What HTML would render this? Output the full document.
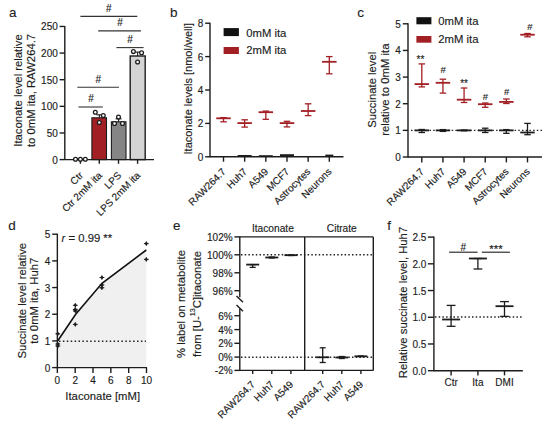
<!DOCTYPE html>
<html><head><meta charset="utf-8"><style>
html,body{margin:0;padding:0;background:#fff;}
svg{display:block;}
text{font-family:"Liberation Sans", sans-serif;stroke:#1c1c1c;stroke-width:0.15px;}
</style></head><body>
<svg width="550" height="427" viewBox="0 0 550 427">
<rect width="550" height="427" fill="#fff"/>
<text x="9.00" y="16.90" font-size="13.5" text-anchor="start" fill="#1c1c1c" style="stroke-width:0.1px">a</text>
<line x1="64.80" y1="25.95" x2="64.80" y2="160.10" stroke="#1c1c1c" stroke-width="1.4" />
<line x1="64.80" y1="159.60" x2="154.00" y2="159.60" stroke="#1c1c1c" stroke-width="1.4" />
<line x1="59.60" y1="159.60" x2="64.80" y2="159.60" stroke="#1c1c1c" stroke-width="1.4" />
<text x="57.80" y="163.60" font-size="10" text-anchor="end" fill="#1c1c1c" >0</text>
<line x1="59.60" y1="132.97" x2="64.80" y2="132.97" stroke="#1c1c1c" stroke-width="1.4" />
<text x="57.80" y="136.97" font-size="10" text-anchor="end" fill="#1c1c1c" >50</text>
<line x1="59.60" y1="106.34" x2="64.80" y2="106.34" stroke="#1c1c1c" stroke-width="1.4" />
<text x="57.80" y="110.34" font-size="10" text-anchor="end" fill="#1c1c1c" >100</text>
<line x1="59.60" y1="79.71" x2="64.80" y2="79.71" stroke="#1c1c1c" stroke-width="1.4" />
<text x="57.80" y="83.71" font-size="10" text-anchor="end" fill="#1c1c1c" >150</text>
<line x1="59.60" y1="53.08" x2="64.80" y2="53.08" stroke="#1c1c1c" stroke-width="1.4" />
<text x="57.80" y="57.08" font-size="10" text-anchor="end" fill="#1c1c1c" >200</text>
<line x1="59.60" y1="26.45" x2="64.80" y2="26.45" stroke="#1c1c1c" stroke-width="1.4" />
<text x="57.80" y="30.45" font-size="10" text-anchor="end" fill="#1c1c1c" >250</text>
<rect x="91.90" y="117.80" width="14.60" height="41.80" fill="#a21f24" stroke="#1c1c1c" stroke-width="1.1"/>
<rect x="111.40" y="121.80" width="14.60" height="37.80" fill="#858585" stroke="#1c1c1c" stroke-width="1.1"/>
<rect x="130.20" y="56.00" width="15.00" height="103.60" fill="#d4d4d4" stroke="#1c1c1c" stroke-width="1.4"/>
<line x1="80.40" y1="159.60" x2="80.40" y2="163.80" stroke="#1c1c1c" stroke-width="1.4" />
<line x1="99.30" y1="159.60" x2="99.30" y2="163.80" stroke="#1c1c1c" stroke-width="1.4" />
<line x1="118.50" y1="159.60" x2="118.50" y2="163.80" stroke="#1c1c1c" stroke-width="1.4" />
<line x1="137.60" y1="159.60" x2="137.60" y2="163.80" stroke="#1c1c1c" stroke-width="1.4" />
<line x1="99.40" y1="114.80" x2="99.40" y2="117.80" stroke="#1c1c1c" stroke-width="1.1" />
<line x1="96.40" y1="114.80" x2="102.40" y2="114.80" stroke="#1c1c1c" stroke-width="1.1" />
<line x1="118.60" y1="118.80" x2="118.60" y2="121.80" stroke="#1c1c1c" stroke-width="1.1" />
<line x1="115.60" y1="118.80" x2="121.60" y2="118.80" stroke="#1c1c1c" stroke-width="1.1" />
<line x1="137.60" y1="52.10" x2="137.60" y2="56.00" stroke="#1c1c1c" stroke-width="1.1" />
<line x1="134.60" y1="52.10" x2="140.60" y2="52.10" stroke="#1c1c1c" stroke-width="1.1" />
<circle cx="75.50" cy="159.20" r="1.9" fill="#fff" stroke="#1c1c1c" stroke-width="1.3"/>
<circle cx="80.40" cy="159.20" r="1.9" fill="#fff" stroke="#1c1c1c" stroke-width="1.3"/>
<circle cx="85.30" cy="159.20" r="1.9" fill="#fff" stroke="#1c1c1c" stroke-width="1.3"/>
<circle cx="95.30" cy="112.30" r="1.9" fill="#fff" stroke="#1c1c1c" stroke-width="1.3"/>
<circle cx="103.30" cy="115.50" r="1.9" fill="#fff" stroke="#1c1c1c" stroke-width="1.3"/>
<circle cx="99.30" cy="122.50" r="1.9" fill="#fff" stroke="#1c1c1c" stroke-width="1.3"/>
<circle cx="118.50" cy="117.00" r="1.9" fill="#fff" stroke="#1c1c1c" stroke-width="1.3"/>
<circle cx="114.50" cy="123.50" r="1.9" fill="#fff" stroke="#1c1c1c" stroke-width="1.3"/>
<circle cx="122.50" cy="123.50" r="1.9" fill="#fff" stroke="#1c1c1c" stroke-width="1.3"/>
<circle cx="133.40" cy="51.60" r="1.9" fill="#fff" stroke="#1c1c1c" stroke-width="1.3"/>
<circle cx="141.60" cy="52.70" r="1.9" fill="#fff" stroke="#1c1c1c" stroke-width="1.3"/>
<circle cx="137.60" cy="62.00" r="1.9" fill="#fff" stroke="#1c1c1c" stroke-width="1.3"/>
<line x1="80.40" y1="16.40" x2="137.30" y2="16.40" stroke="#333" stroke-width="1.1" />
<text x="108.70" y="11.80" font-size="10" text-anchor="middle" fill="#1c1c1c" >#</text>
<line x1="98.20" y1="30.90" x2="140.90" y2="30.90" stroke="#333" stroke-width="1.1" />
<text x="120.00" y="26.30" font-size="10" text-anchor="middle" fill="#1c1c1c" >#</text>
<line x1="116.40" y1="47.60" x2="143.60" y2="47.60" stroke="#333" stroke-width="1.1" />
<text x="130.00" y="43.00" font-size="10" text-anchor="middle" fill="#1c1c1c" >#</text>
<line x1="77.30" y1="87.30" x2="119.00" y2="87.30" stroke="#333" stroke-width="1.1" />
<text x="98.20" y="82.70" font-size="10" text-anchor="middle" fill="#1c1c1c" >#</text>
<line x1="78.50" y1="107.00" x2="102.70" y2="107.00" stroke="#333" stroke-width="1.1" />
<text x="91.00" y="102.40" font-size="10" text-anchor="middle" fill="#1c1c1c" >#</text>
<text x="21.80" y="90.50" font-size="11.3" text-anchor="middle" fill="#1c1c1c" transform="rotate(-90 21.80 90.50)" >Itaconate level relative</text>
<text x="35.30" y="90.50" font-size="11.3" text-anchor="middle" fill="#1c1c1c" transform="rotate(-90 35.30 90.50)" >to 0mM ita, RAW264.7</text>
<text x="83.80" y="176.00" font-size="10" text-anchor="end" fill="#1c1c1c" transform="rotate(-45 83.80 176.00)" >Ctr</text>
<text x="102.70" y="176.00" font-size="10" text-anchor="end" fill="#1c1c1c" transform="rotate(-45 102.70 176.00)" >Ctr 2mM ita</text>
<text x="121.90" y="176.00" font-size="10" text-anchor="end" fill="#1c1c1c" transform="rotate(-45 121.90 176.00)" >LPS</text>
<text x="141.00" y="176.00" font-size="10" text-anchor="end" fill="#1c1c1c" transform="rotate(-45 141.00 176.00)" >LPS 2mM ita</text>
<text x="170.00" y="16.90" font-size="13.5" text-anchor="start" fill="#1c1c1c" style="stroke-width:0.1px">b</text>
<line x1="210.00" y1="22.70" x2="210.00" y2="157.30" stroke="#1c1c1c" stroke-width="1.4" />
<line x1="210.00" y1="156.80" x2="343.50" y2="156.80" stroke="#1c1c1c" stroke-width="1.4" />
<line x1="205.20" y1="156.80" x2="210.00" y2="156.80" stroke="#1c1c1c" stroke-width="1.4" />
<text x="203.30" y="160.80" font-size="10" text-anchor="end" fill="#1c1c1c" >0</text>
<line x1="205.20" y1="123.40" x2="210.00" y2="123.40" stroke="#1c1c1c" stroke-width="1.4" />
<text x="203.30" y="127.40" font-size="10" text-anchor="end" fill="#1c1c1c" >2</text>
<line x1="205.20" y1="90.00" x2="210.00" y2="90.00" stroke="#1c1c1c" stroke-width="1.4" />
<text x="203.30" y="94.00" font-size="10" text-anchor="end" fill="#1c1c1c" >4</text>
<line x1="205.20" y1="56.60" x2="210.00" y2="56.60" stroke="#1c1c1c" stroke-width="1.4" />
<text x="203.30" y="60.60" font-size="10" text-anchor="end" fill="#1c1c1c" >6</text>
<line x1="205.20" y1="23.20" x2="210.00" y2="23.20" stroke="#1c1c1c" stroke-width="1.4" />
<text x="203.30" y="27.20" font-size="10" text-anchor="end" fill="#1c1c1c" >8</text>
<line x1="223.50" y1="156.80" x2="223.50" y2="161.70" stroke="#1c1c1c" stroke-width="1.4" />
<line x1="244.66" y1="156.80" x2="244.66" y2="161.70" stroke="#1c1c1c" stroke-width="1.4" />
<line x1="265.82" y1="156.80" x2="265.82" y2="161.70" stroke="#1c1c1c" stroke-width="1.4" />
<line x1="286.98" y1="156.80" x2="286.98" y2="161.70" stroke="#1c1c1c" stroke-width="1.4" />
<line x1="308.14" y1="156.80" x2="308.14" y2="161.70" stroke="#1c1c1c" stroke-width="1.4" />
<line x1="329.30" y1="156.80" x2="329.30" y2="161.70" stroke="#1c1c1c" stroke-width="1.4" />
<line x1="223.50" y1="117.60" x2="223.50" y2="121.80" stroke="#a21f24" stroke-width="1.3" />
<line x1="220.25" y1="117.60" x2="226.75" y2="117.60" stroke="#a21f24" stroke-width="1.3" />
<line x1="220.25" y1="121.80" x2="226.75" y2="121.80" stroke="#a21f24" stroke-width="1.3" />
<line x1="216.25" y1="118.30" x2="230.75" y2="118.30" stroke="#a21f24" stroke-width="1.8" />
<line x1="244.66" y1="119.80" x2="244.66" y2="127.10" stroke="#a21f24" stroke-width="1.3" />
<line x1="241.41" y1="119.80" x2="247.91" y2="119.80" stroke="#a21f24" stroke-width="1.3" />
<line x1="241.41" y1="127.10" x2="247.91" y2="127.10" stroke="#a21f24" stroke-width="1.3" />
<line x1="237.41" y1="123.10" x2="251.91" y2="123.10" stroke="#a21f24" stroke-width="1.8" />
<line x1="265.82" y1="111.10" x2="265.82" y2="119.30" stroke="#a21f24" stroke-width="1.3" />
<line x1="262.57" y1="111.10" x2="269.07" y2="111.10" stroke="#a21f24" stroke-width="1.3" />
<line x1="262.57" y1="119.30" x2="269.07" y2="119.30" stroke="#a21f24" stroke-width="1.3" />
<line x1="258.57" y1="112.20" x2="273.07" y2="112.20" stroke="#a21f24" stroke-width="1.8" />
<line x1="286.98" y1="121.30" x2="286.98" y2="126.90" stroke="#a21f24" stroke-width="1.3" />
<line x1="283.73" y1="121.30" x2="290.23" y2="121.30" stroke="#a21f24" stroke-width="1.3" />
<line x1="283.73" y1="126.90" x2="290.23" y2="126.90" stroke="#a21f24" stroke-width="1.3" />
<line x1="279.73" y1="123.10" x2="294.23" y2="123.10" stroke="#a21f24" stroke-width="1.8" />
<line x1="308.14" y1="103.80" x2="308.14" y2="115.60" stroke="#a21f24" stroke-width="1.3" />
<line x1="304.89" y1="103.80" x2="311.39" y2="103.80" stroke="#a21f24" stroke-width="1.3" />
<line x1="304.89" y1="115.60" x2="311.39" y2="115.60" stroke="#a21f24" stroke-width="1.3" />
<line x1="300.89" y1="111.00" x2="315.39" y2="111.00" stroke="#a21f24" stroke-width="1.8" />
<line x1="329.30" y1="56.60" x2="329.30" y2="73.80" stroke="#a21f24" stroke-width="1.3" />
<line x1="326.05" y1="56.60" x2="332.55" y2="56.60" stroke="#a21f24" stroke-width="1.3" />
<line x1="326.05" y1="73.80" x2="332.55" y2="73.80" stroke="#a21f24" stroke-width="1.3" />
<line x1="322.05" y1="61.80" x2="336.55" y2="61.80" stroke="#a21f24" stroke-width="1.8" />
<rect x="217.50" y="156.00" width="12.00" height="1.00" fill="#1c1c1c"/>
<rect x="237.66" y="155.00" width="14.00" height="2.00" fill="#1c1c1c"/>
<rect x="258.82" y="155.20" width="14.00" height="1.80" fill="#1c1c1c"/>
<rect x="279.98" y="154.20" width="14.00" height="2.80" fill="#1c1c1c"/>
<rect x="302.14" y="156.00" width="12.00" height="1.00" fill="#1c1c1c"/>
<rect x="325.30" y="154.60" width="8.00" height="2.40" fill="#1c1c1c"/>
<rect x="223.60" y="28.10" width="15.30" height="8.00" fill="#111"/>
<rect x="223.60" y="47.00" width="15.30" height="7.00" fill="#a21f24"/>
<text x="246.20" y="36.80" font-size="11.3" text-anchor="start" fill="#1c1c1c" >0mM ita</text>
<text x="246.20" y="54.30" font-size="11.3" text-anchor="start" fill="#1c1c1c" >2mM ita</text>
<text x="191.50" y="88.75" font-size="11.0" text-anchor="middle" fill="#1c1c1c" transform="rotate(-90 191.50 88.75)" >Itaconate levels [nmol/well]</text>
<text x="226.50" y="172.30" font-size="10" text-anchor="end" fill="#1c1c1c" transform="rotate(-45 226.50 172.30)" >RAW264.7</text>
<text x="247.66" y="172.30" font-size="10" text-anchor="end" fill="#1c1c1c" transform="rotate(-45 247.66 172.30)" >Huh7</text>
<text x="268.82" y="172.30" font-size="10" text-anchor="end" fill="#1c1c1c" transform="rotate(-45 268.82 172.30)" >A549</text>
<text x="289.98" y="172.30" font-size="10" text-anchor="end" fill="#1c1c1c" transform="rotate(-45 289.98 172.30)" >MCF7</text>
<text x="311.14" y="172.30" font-size="10" text-anchor="end" fill="#1c1c1c" transform="rotate(-45 311.14 172.30)" >Astrocytes</text>
<text x="332.30" y="172.30" font-size="10" text-anchor="end" fill="#1c1c1c" transform="rotate(-45 332.30 172.30)" >Neurons</text>
<text x="357.30" y="16.90" font-size="13.5" text-anchor="start" fill="#1c1c1c" style="stroke-width:0.1px">c</text>
<line x1="408.00" y1="23.30" x2="408.00" y2="157.50" stroke="#1c1c1c" stroke-width="1.4" />
<line x1="408.00" y1="157.00" x2="542.00" y2="157.00" stroke="#1c1c1c" stroke-width="1.4" />
<line x1="402.80" y1="157.00" x2="408.00" y2="157.00" stroke="#1c1c1c" stroke-width="1.4" />
<text x="400.80" y="161.00" font-size="10" text-anchor="end" fill="#1c1c1c" >0</text>
<line x1="402.80" y1="130.36" x2="408.00" y2="130.36" stroke="#1c1c1c" stroke-width="1.4" />
<text x="400.80" y="134.36" font-size="10" text-anchor="end" fill="#1c1c1c" >1</text>
<line x1="402.80" y1="103.72" x2="408.00" y2="103.72" stroke="#1c1c1c" stroke-width="1.4" />
<text x="400.80" y="107.72" font-size="10" text-anchor="end" fill="#1c1c1c" >2</text>
<line x1="402.80" y1="77.08" x2="408.00" y2="77.08" stroke="#1c1c1c" stroke-width="1.4" />
<text x="400.80" y="81.08" font-size="10" text-anchor="end" fill="#1c1c1c" >3</text>
<line x1="402.80" y1="50.44" x2="408.00" y2="50.44" stroke="#1c1c1c" stroke-width="1.4" />
<text x="400.80" y="54.44" font-size="10" text-anchor="end" fill="#1c1c1c" >4</text>
<line x1="402.80" y1="23.80" x2="408.00" y2="23.80" stroke="#1c1c1c" stroke-width="1.4" />
<text x="400.80" y="27.80" font-size="10" text-anchor="end" fill="#1c1c1c" >5</text>
<line x1="421.80" y1="157.00" x2="421.80" y2="162.40" stroke="#1c1c1c" stroke-width="1.4" />
<line x1="442.94" y1="157.00" x2="442.94" y2="162.40" stroke="#1c1c1c" stroke-width="1.4" />
<line x1="464.08" y1="157.00" x2="464.08" y2="162.40" stroke="#1c1c1c" stroke-width="1.4" />
<line x1="485.22" y1="157.00" x2="485.22" y2="162.40" stroke="#1c1c1c" stroke-width="1.4" />
<line x1="506.36" y1="157.00" x2="506.36" y2="162.40" stroke="#1c1c1c" stroke-width="1.4" />
<line x1="527.50" y1="157.00" x2="527.50" y2="162.40" stroke="#1c1c1c" stroke-width="1.4" />
<line x1="411.00" y1="130.40" x2="542.00" y2="130.40" stroke="#222" stroke-width="1.4" stroke-dasharray="1.5 2.2"/>
<line x1="421.80" y1="63.90" x2="421.80" y2="86.90" stroke="#a21f24" stroke-width="1.3" />
<line x1="418.55" y1="63.90" x2="425.05" y2="63.90" stroke="#a21f24" stroke-width="1.3" />
<line x1="418.55" y1="86.90" x2="425.05" y2="86.90" stroke="#a21f24" stroke-width="1.3" />
<line x1="414.55" y1="84.10" x2="429.05" y2="84.10" stroke="#a21f24" stroke-width="1.8" />
<line x1="442.94" y1="79.20" x2="442.94" y2="93.10" stroke="#a21f24" stroke-width="1.3" />
<line x1="439.69" y1="79.20" x2="446.19" y2="79.20" stroke="#a21f24" stroke-width="1.3" />
<line x1="439.69" y1="93.10" x2="446.19" y2="93.10" stroke="#a21f24" stroke-width="1.3" />
<line x1="435.69" y1="82.80" x2="450.19" y2="82.80" stroke="#a21f24" stroke-width="1.8" />
<line x1="464.08" y1="88.00" x2="464.08" y2="102.50" stroke="#a21f24" stroke-width="1.3" />
<line x1="460.83" y1="88.00" x2="467.33" y2="88.00" stroke="#a21f24" stroke-width="1.3" />
<line x1="460.83" y1="102.50" x2="467.33" y2="102.50" stroke="#a21f24" stroke-width="1.3" />
<line x1="456.83" y1="99.70" x2="471.33" y2="99.70" stroke="#a21f24" stroke-width="1.8" />
<line x1="485.22" y1="103.00" x2="485.22" y2="107.30" stroke="#a21f24" stroke-width="1.3" />
<line x1="481.97" y1="103.00" x2="488.47" y2="103.00" stroke="#a21f24" stroke-width="1.3" />
<line x1="481.97" y1="107.30" x2="488.47" y2="107.30" stroke="#a21f24" stroke-width="1.3" />
<line x1="477.97" y1="104.20" x2="492.47" y2="104.20" stroke="#a21f24" stroke-width="1.8" />
<line x1="506.36" y1="99.00" x2="506.36" y2="103.50" stroke="#a21f24" stroke-width="1.3" />
<line x1="503.11" y1="99.00" x2="509.61" y2="99.00" stroke="#a21f24" stroke-width="1.3" />
<line x1="503.11" y1="103.50" x2="509.61" y2="103.50" stroke="#a21f24" stroke-width="1.3" />
<line x1="499.11" y1="101.90" x2="513.61" y2="101.90" stroke="#a21f24" stroke-width="1.8" />
<line x1="527.50" y1="33.50" x2="527.50" y2="36.80" stroke="#a21f24" stroke-width="1.3" />
<line x1="524.25" y1="33.50" x2="530.75" y2="33.50" stroke="#a21f24" stroke-width="1.3" />
<line x1="524.25" y1="36.80" x2="530.75" y2="36.80" stroke="#a21f24" stroke-width="1.3" />
<line x1="520.25" y1="34.70" x2="534.75" y2="34.70" stroke="#a21f24" stroke-width="1.8" />
<line x1="421.80" y1="129.50" x2="421.80" y2="132.50" stroke="#1c1c1c" stroke-width="1.3" />
<line x1="418.55" y1="129.50" x2="425.05" y2="129.50" stroke="#1c1c1c" stroke-width="1.3" />
<line x1="418.55" y1="132.50" x2="425.05" y2="132.50" stroke="#1c1c1c" stroke-width="1.3" />
<line x1="414.55" y1="130.40" x2="429.05" y2="130.40" stroke="#1c1c1c" stroke-width="1.8" />
<line x1="442.94" y1="129.60" x2="442.94" y2="131.40" stroke="#1c1c1c" stroke-width="1.3" />
<line x1="439.69" y1="129.60" x2="446.19" y2="129.60" stroke="#1c1c1c" stroke-width="1.3" />
<line x1="439.69" y1="131.40" x2="446.19" y2="131.40" stroke="#1c1c1c" stroke-width="1.3" />
<line x1="435.69" y1="130.40" x2="450.19" y2="130.40" stroke="#1c1c1c" stroke-width="1.8" />
<line x1="464.08" y1="130.00" x2="464.08" y2="130.80" stroke="#1c1c1c" stroke-width="1.3" />
<line x1="460.83" y1="130.00" x2="467.33" y2="130.00" stroke="#1c1c1c" stroke-width="1.3" />
<line x1="460.83" y1="130.80" x2="467.33" y2="130.80" stroke="#1c1c1c" stroke-width="1.3" />
<line x1="456.83" y1="130.40" x2="471.33" y2="130.40" stroke="#1c1c1c" stroke-width="1.8" />
<line x1="485.22" y1="128.20" x2="485.22" y2="132.50" stroke="#1c1c1c" stroke-width="1.3" />
<line x1="481.97" y1="128.20" x2="488.47" y2="128.20" stroke="#1c1c1c" stroke-width="1.3" />
<line x1="481.97" y1="132.50" x2="488.47" y2="132.50" stroke="#1c1c1c" stroke-width="1.3" />
<line x1="477.97" y1="130.40" x2="492.47" y2="130.40" stroke="#1c1c1c" stroke-width="1.8" />
<line x1="506.36" y1="129.60" x2="506.36" y2="133.30" stroke="#1c1c1c" stroke-width="1.3" />
<line x1="503.11" y1="129.60" x2="509.61" y2="129.60" stroke="#1c1c1c" stroke-width="1.3" />
<line x1="503.11" y1="133.30" x2="509.61" y2="133.30" stroke="#1c1c1c" stroke-width="1.3" />
<line x1="499.11" y1="130.40" x2="513.61" y2="130.40" stroke="#1c1c1c" stroke-width="1.8" />
<line x1="527.50" y1="123.40" x2="527.50" y2="134.70" stroke="#1c1c1c" stroke-width="1.3" />
<line x1="524.25" y1="123.40" x2="530.75" y2="123.40" stroke="#1c1c1c" stroke-width="1.3" />
<line x1="524.25" y1="134.70" x2="530.75" y2="134.70" stroke="#1c1c1c" stroke-width="1.3" />
<line x1="520.25" y1="132.50" x2="534.75" y2="132.50" stroke="#1c1c1c" stroke-width="1.8" />
<text x="420.50" y="63.00" font-size="10" text-anchor="middle" fill="#1c1c1c" >**</text>
<text x="443.24" y="73.00" font-size="9.5" text-anchor="middle" fill="#1c1c1c" >#</text>
<text x="464.08" y="86.80" font-size="10" text-anchor="middle" fill="#1c1c1c" >**</text>
<text x="485.52" y="99.50" font-size="9.5" text-anchor="middle" fill="#1c1c1c" >#</text>
<text x="506.76" y="94.90" font-size="9.5" text-anchor="middle" fill="#1c1c1c" >#</text>
<text x="529.90" y="29.80" font-size="9.5" text-anchor="middle" fill="#1c1c1c" >#</text>
<rect x="416.40" y="17.20" width="15.00" height="7.10" fill="#111"/>
<rect x="416.40" y="36.00" width="15.00" height="6.70" fill="#a21f24"/>
<text x="438.30" y="25.00" font-size="11.3" text-anchor="start" fill="#1c1c1c" >0mM ita</text>
<text x="438.30" y="43.00" font-size="11.3" text-anchor="start" fill="#1c1c1c" >2mM ita</text>
<text x="376.00" y="89.70" font-size="11.3" text-anchor="middle" fill="#1c1c1c" transform="rotate(-90 376.00 89.70)" >Succinate level</text>
<text x="389.00" y="89.70" font-size="11.3" text-anchor="middle" fill="#1c1c1c" transform="rotate(-90 389.00 89.70)" >relative to 0mM ita</text>
<text x="424.80" y="172.30" font-size="10" text-anchor="end" fill="#1c1c1c" transform="rotate(-45 424.80 172.30)" >RAW264.7</text>
<text x="445.94" y="172.30" font-size="10" text-anchor="end" fill="#1c1c1c" transform="rotate(-45 445.94 172.30)" >Huh7</text>
<text x="467.08" y="172.30" font-size="10" text-anchor="end" fill="#1c1c1c" transform="rotate(-45 467.08 172.30)" >A549</text>
<text x="488.22" y="172.30" font-size="10" text-anchor="end" fill="#1c1c1c" transform="rotate(-45 488.22 172.30)" >MCF7</text>
<text x="509.36" y="172.30" font-size="10" text-anchor="end" fill="#1c1c1c" transform="rotate(-45 509.36 172.30)" >Astrocytes</text>
<text x="530.50" y="172.30" font-size="10" text-anchor="end" fill="#1c1c1c" transform="rotate(-45 530.50 172.30)" >Neurons</text>
<text x="8.30" y="230.00" font-size="13.5" text-anchor="start" fill="#1c1c1c" style="stroke-width:0.1px">d</text>
<polygon points="57.8,340.8 75.5,314.5 102,283.3 146.3,250 146.3,250 146.3,367.6 57.8,367.6" fill="#f0f0f0"/>
<line x1="57.35" y1="233.70" x2="57.35" y2="368.10" stroke="#1c1c1c" stroke-width="1.4" />
<line x1="57.35" y1="367.60" x2="147.00" y2="367.60" stroke="#1c1c1c" stroke-width="1.4" />
<line x1="52.20" y1="367.60" x2="57.35" y2="367.60" stroke="#1c1c1c" stroke-width="1.4" />
<text x="50.20" y="371.60" font-size="10" text-anchor="end" fill="#1c1c1c" >0</text>
<line x1="52.20" y1="340.92" x2="57.35" y2="340.92" stroke="#1c1c1c" stroke-width="1.4" />
<text x="50.20" y="344.92" font-size="10" text-anchor="end" fill="#1c1c1c" >1</text>
<line x1="52.20" y1="314.24" x2="57.35" y2="314.24" stroke="#1c1c1c" stroke-width="1.4" />
<text x="50.20" y="318.24" font-size="10" text-anchor="end" fill="#1c1c1c" >2</text>
<line x1="52.20" y1="287.56" x2="57.35" y2="287.56" stroke="#1c1c1c" stroke-width="1.4" />
<text x="50.20" y="291.56" font-size="10" text-anchor="end" fill="#1c1c1c" >3</text>
<line x1="52.20" y1="260.88" x2="57.35" y2="260.88" stroke="#1c1c1c" stroke-width="1.4" />
<text x="50.20" y="264.88" font-size="10" text-anchor="end" fill="#1c1c1c" >4</text>
<line x1="52.20" y1="234.20" x2="57.35" y2="234.20" stroke="#1c1c1c" stroke-width="1.4" />
<text x="50.20" y="238.20" font-size="10" text-anchor="end" fill="#1c1c1c" >5</text>
<line x1="57.35" y1="367.60" x2="57.35" y2="373.00" stroke="#1c1c1c" stroke-width="1.4" />
<text x="57.35" y="384.10" font-size="10" text-anchor="middle" fill="#1c1c1c" >0</text>
<line x1="75.18" y1="367.60" x2="75.18" y2="373.00" stroke="#1c1c1c" stroke-width="1.4" />
<text x="75.18" y="384.10" font-size="10" text-anchor="middle" fill="#1c1c1c" >2</text>
<line x1="93.01" y1="367.60" x2="93.01" y2="373.00" stroke="#1c1c1c" stroke-width="1.4" />
<text x="93.01" y="384.10" font-size="10" text-anchor="middle" fill="#1c1c1c" >4</text>
<line x1="110.84" y1="367.60" x2="110.84" y2="373.00" stroke="#1c1c1c" stroke-width="1.4" />
<text x="110.84" y="384.10" font-size="10" text-anchor="middle" fill="#1c1c1c" >6</text>
<line x1="128.67" y1="367.60" x2="128.67" y2="373.00" stroke="#1c1c1c" stroke-width="1.4" />
<text x="128.67" y="384.10" font-size="10" text-anchor="middle" fill="#1c1c1c" >8</text>
<line x1="146.50" y1="367.60" x2="146.50" y2="373.00" stroke="#1c1c1c" stroke-width="1.4" />
<text x="146.50" y="384.10" font-size="10" text-anchor="middle" fill="#1c1c1c" >10</text>
<line x1="59.00" y1="341.20" x2="146.00" y2="341.20" stroke="#222" stroke-width="1.4" stroke-dasharray="1.5 2.4"/>
<polyline points="57.8,340.8 75.5,314.5 102,283.3 146.3,250" fill="none" stroke="#111" stroke-width="1.6"/>
<line x1="55.40" y1="333.80" x2="60.20" y2="333.80" stroke="#1c1c1c" stroke-width="1.0" />
<line x1="57.80" y1="331.60" x2="57.80" y2="336.00" stroke="#1c1c1c" stroke-width="1.0" />
<polygon points="55.90,333.80 57.80,332.00 59.70,333.80 57.80,335.60" fill="#1c1c1c"/>
<line x1="55.40" y1="344.00" x2="60.20" y2="344.00" stroke="#1c1c1c" stroke-width="1.0" />
<line x1="57.80" y1="341.80" x2="57.80" y2="346.20" stroke="#1c1c1c" stroke-width="1.0" />
<polygon points="55.90,344.00 57.80,342.20 59.70,344.00 57.80,345.80" fill="#1c1c1c"/>
<line x1="55.40" y1="346.00" x2="60.20" y2="346.00" stroke="#1c1c1c" stroke-width="1.0" />
<line x1="57.80" y1="343.80" x2="57.80" y2="348.20" stroke="#1c1c1c" stroke-width="1.0" />
<polygon points="55.90,346.00 57.80,344.20 59.70,346.00 57.80,347.80" fill="#1c1c1c"/>
<line x1="72.90" y1="305.30" x2="77.70" y2="305.30" stroke="#1c1c1c" stroke-width="1.0" />
<line x1="75.30" y1="303.10" x2="75.30" y2="307.50" stroke="#1c1c1c" stroke-width="1.0" />
<polygon points="73.40,305.30 75.30,303.50 77.20,305.30 75.30,307.10" fill="#1c1c1c"/>
<line x1="72.90" y1="309.40" x2="77.70" y2="309.40" stroke="#1c1c1c" stroke-width="1.0" />
<line x1="75.30" y1="307.20" x2="75.30" y2="311.60" stroke="#1c1c1c" stroke-width="1.0" />
<polygon points="73.40,309.40 75.30,307.60 77.20,309.40 75.30,311.20" fill="#1c1c1c"/>
<line x1="72.90" y1="310.90" x2="77.70" y2="310.90" stroke="#1c1c1c" stroke-width="1.0" />
<line x1="75.30" y1="308.70" x2="75.30" y2="313.10" stroke="#1c1c1c" stroke-width="1.0" />
<polygon points="73.40,310.90 75.30,309.10 77.20,310.90 75.30,312.70" fill="#1c1c1c"/>
<line x1="72.90" y1="324.40" x2="77.70" y2="324.40" stroke="#1c1c1c" stroke-width="1.0" />
<line x1="75.30" y1="322.20" x2="75.30" y2="326.60" stroke="#1c1c1c" stroke-width="1.0" />
<polygon points="73.40,324.40 75.30,322.60 77.20,324.40 75.30,326.20" fill="#1c1c1c"/>
<line x1="99.50" y1="277.50" x2="104.30" y2="277.50" stroke="#1c1c1c" stroke-width="1.0" />
<line x1="101.90" y1="275.30" x2="101.90" y2="279.70" stroke="#1c1c1c" stroke-width="1.0" />
<polygon points="100.00,277.50 101.90,275.70 103.80,277.50 101.90,279.30" fill="#1c1c1c"/>
<line x1="99.50" y1="285.00" x2="104.30" y2="285.00" stroke="#1c1c1c" stroke-width="1.0" />
<line x1="101.90" y1="282.80" x2="101.90" y2="287.20" stroke="#1c1c1c" stroke-width="1.0" />
<polygon points="100.00,285.00 101.90,283.20 103.80,285.00 101.90,286.80" fill="#1c1c1c"/>
<line x1="99.50" y1="287.80" x2="104.30" y2="287.80" stroke="#1c1c1c" stroke-width="1.0" />
<line x1="101.90" y1="285.60" x2="101.90" y2="290.00" stroke="#1c1c1c" stroke-width="1.0" />
<polygon points="100.00,287.80 101.90,286.00 103.80,287.80 101.90,289.60" fill="#1c1c1c"/>
<line x1="143.90" y1="243.60" x2="148.70" y2="243.60" stroke="#1c1c1c" stroke-width="1.0" />
<line x1="146.30" y1="241.40" x2="146.30" y2="245.80" stroke="#1c1c1c" stroke-width="1.0" />
<polygon points="144.40,243.60 146.30,241.80 148.20,243.60 146.30,245.40" fill="#1c1c1c"/>
<line x1="143.90" y1="259.40" x2="148.70" y2="259.40" stroke="#1c1c1c" stroke-width="1.0" />
<line x1="146.30" y1="257.20" x2="146.30" y2="261.60" stroke="#1c1c1c" stroke-width="1.0" />
<polygon points="144.40,259.40 146.30,257.60 148.20,259.40 146.30,261.20" fill="#1c1c1c"/>
<text x="61.60" y="242.00" font-size="11.3" text-anchor="start" fill="#1c1c1c" ><tspan font-style="italic">r</tspan> = 0.99 **</text>
<text x="102.70" y="399.50" font-size="11.3" text-anchor="middle" fill="#1c1c1c" >Itaconate [mM]</text>
<text x="26.00" y="300.70" font-size="11.3" text-anchor="middle" fill="#1c1c1c" transform="rotate(-90 26.00 300.70)" >Succinate level relative</text>
<text x="38.50" y="300.70" font-size="11.3" text-anchor="middle" fill="#1c1c1c" transform="rotate(-90 38.50 300.70)" >to 0mM ita, Huh7</text>
<text x="172.90" y="230.00" font-size="13.5" text-anchor="start" fill="#1c1c1c" style="stroke-width:0.1px">e</text>
<line x1="239.80" y1="236.90" x2="373.30" y2="236.90" stroke="#1c1c1c" stroke-width="1.4" />
<line x1="373.30" y1="236.90" x2="373.30" y2="370.40" stroke="#1c1c1c" stroke-width="1.4" />
<line x1="304.70" y1="236.90" x2="304.70" y2="370.40" stroke="#1c1c1c" stroke-width="1.4" />
<line x1="239.80" y1="370.40" x2="373.30" y2="370.40" stroke="#1c1c1c" stroke-width="1.4" />
<line x1="239.80" y1="236.40" x2="239.80" y2="297.30" stroke="#1c1c1c" stroke-width="1.4" />
<line x1="239.80" y1="308.80" x2="239.80" y2="370.90" stroke="#1c1c1c" stroke-width="1.4" />
<line x1="236.50" y1="296.00" x2="243.00" y2="302.20" stroke="#1c1c1c" stroke-width="1.4" />
<line x1="236.50" y1="305.00" x2="243.00" y2="311.20" stroke="#1c1c1c" stroke-width="1.4" />
<line x1="234.40" y1="236.90" x2="239.80" y2="236.90" stroke="#1c1c1c" stroke-width="1.4" />
<text x="232.60" y="240.90" font-size="10" text-anchor="end" fill="#1c1c1c" >102%</text>
<line x1="234.40" y1="254.80" x2="239.80" y2="254.80" stroke="#1c1c1c" stroke-width="1.4" />
<text x="232.60" y="258.80" font-size="10" text-anchor="end" fill="#1c1c1c" >100%</text>
<line x1="234.40" y1="272.80" x2="239.80" y2="272.80" stroke="#1c1c1c" stroke-width="1.4" />
<text x="232.60" y="276.80" font-size="10" text-anchor="end" fill="#1c1c1c" >98%</text>
<line x1="234.40" y1="290.70" x2="239.80" y2="290.70" stroke="#1c1c1c" stroke-width="1.4" />
<text x="232.60" y="294.70" font-size="10" text-anchor="end" fill="#1c1c1c" >96%</text>
<line x1="234.40" y1="315.70" x2="239.80" y2="315.70" stroke="#1c1c1c" stroke-width="1.4" />
<text x="232.60" y="319.70" font-size="10" text-anchor="end" fill="#1c1c1c" >6%</text>
<line x1="234.40" y1="329.60" x2="239.80" y2="329.60" stroke="#1c1c1c" stroke-width="1.4" />
<text x="232.60" y="333.60" font-size="10" text-anchor="end" fill="#1c1c1c" >4%</text>
<line x1="234.40" y1="343.30" x2="239.80" y2="343.30" stroke="#1c1c1c" stroke-width="1.4" />
<text x="232.60" y="347.30" font-size="10" text-anchor="end" fill="#1c1c1c" >2%</text>
<line x1="234.40" y1="357.10" x2="239.80" y2="357.10" stroke="#1c1c1c" stroke-width="1.4" />
<text x="232.60" y="361.10" font-size="10" text-anchor="end" fill="#1c1c1c" >0%</text>
<line x1="234.40" y1="370.40" x2="239.80" y2="370.40" stroke="#1c1c1c" stroke-width="1.4" />
<text x="232.60" y="374.40" font-size="10" text-anchor="end" fill="#1c1c1c" >-2%</text>
<line x1="241.00" y1="254.80" x2="373.30" y2="254.80" stroke="#222" stroke-width="1.4" stroke-dasharray="1.5 2.2"/>
<line x1="241.00" y1="357.20" x2="373.30" y2="357.20" stroke="#222" stroke-width="1.4" stroke-dasharray="1.5 2.2"/>
<text x="272.90" y="231.80" font-size="10.2" text-anchor="middle" fill="#1c1c1c" >Itaconate</text>
<text x="341.80" y="231.80" font-size="10.2" text-anchor="middle" fill="#1c1c1c" >Citrate</text>
<line x1="252.70" y1="370.40" x2="252.70" y2="374.00" stroke="#1c1c1c" stroke-width="1.4" />
<line x1="271.80" y1="370.40" x2="271.80" y2="374.00" stroke="#1c1c1c" stroke-width="1.4" />
<line x1="290.90" y1="370.40" x2="290.90" y2="374.00" stroke="#1c1c1c" stroke-width="1.4" />
<line x1="322.70" y1="370.40" x2="322.70" y2="374.00" stroke="#1c1c1c" stroke-width="1.4" />
<line x1="341.80" y1="370.40" x2="341.80" y2="374.00" stroke="#1c1c1c" stroke-width="1.4" />
<line x1="360.90" y1="370.40" x2="360.90" y2="374.00" stroke="#1c1c1c" stroke-width="1.4" />
<line x1="252.70" y1="264.60" x2="252.70" y2="267.40" stroke="#1c1c1c" stroke-width="1.3" />
<line x1="249.70" y1="264.60" x2="255.70" y2="264.60" stroke="#1c1c1c" stroke-width="1.3" />
<line x1="249.70" y1="267.40" x2="255.70" y2="267.40" stroke="#1c1c1c" stroke-width="1.3" />
<line x1="246.20" y1="264.60" x2="259.20" y2="264.60" stroke="#1c1c1c" stroke-width="1.8" />
<line x1="271.80" y1="257.00" x2="271.80" y2="258.00" stroke="#1c1c1c" stroke-width="1.3" />
<line x1="268.80" y1="257.00" x2="274.80" y2="257.00" stroke="#1c1c1c" stroke-width="1.3" />
<line x1="268.80" y1="258.00" x2="274.80" y2="258.00" stroke="#1c1c1c" stroke-width="1.3" />
<line x1="265.30" y1="257.50" x2="278.30" y2="257.50" stroke="#1c1c1c" stroke-width="1.8" />
<line x1="290.90" y1="255.00" x2="290.90" y2="255.50" stroke="#1c1c1c" stroke-width="1.3" />
<line x1="287.90" y1="255.00" x2="293.90" y2="255.00" stroke="#1c1c1c" stroke-width="1.3" />
<line x1="287.90" y1="255.50" x2="293.90" y2="255.50" stroke="#1c1c1c" stroke-width="1.3" />
<line x1="284.40" y1="255.20" x2="297.40" y2="255.20" stroke="#1c1c1c" stroke-width="1.8" />
<line x1="322.70" y1="347.80" x2="322.70" y2="362.50" stroke="#1c1c1c" stroke-width="1.3" />
<line x1="319.70" y1="347.80" x2="325.70" y2="347.80" stroke="#1c1c1c" stroke-width="1.3" />
<line x1="319.70" y1="362.50" x2="325.70" y2="362.50" stroke="#1c1c1c" stroke-width="1.3" />
<line x1="316.20" y1="357.30" x2="329.20" y2="357.30" stroke="#1c1c1c" stroke-width="1.8" />
<line x1="341.80" y1="356.50" x2="341.80" y2="358.50" stroke="#1c1c1c" stroke-width="1.3" />
<line x1="338.80" y1="356.50" x2="344.80" y2="356.50" stroke="#1c1c1c" stroke-width="1.3" />
<line x1="338.80" y1="358.50" x2="344.80" y2="358.50" stroke="#1c1c1c" stroke-width="1.3" />
<line x1="335.30" y1="357.50" x2="348.30" y2="357.50" stroke="#1c1c1c" stroke-width="1.8" />
<line x1="360.90" y1="356.00" x2="360.90" y2="356.60" stroke="#1c1c1c" stroke-width="1.3" />
<line x1="357.90" y1="356.00" x2="363.90" y2="356.00" stroke="#1c1c1c" stroke-width="1.3" />
<line x1="357.90" y1="356.60" x2="363.90" y2="356.60" stroke="#1c1c1c" stroke-width="1.3" />
<line x1="354.40" y1="356.30" x2="367.40" y2="356.30" stroke="#1c1c1c" stroke-width="1.8" />
<text x="185.00" y="304.00" font-size="11.3" text-anchor="middle" fill="#1c1c1c" transform="rotate(-90 185.00 304.00)" >% label on metabolite</text>
<text x="200.50" y="304.00" font-size="11.3" text-anchor="middle" fill="#1c1c1c" transform="rotate(-90 200.50 304.00)" >from [U-<tspan font-size="7.2" dy="-5.2">13</tspan><tspan dy="5.2">C]itaconate</tspan></text>
<text x="255.70" y="385.00" font-size="10" text-anchor="end" fill="#1c1c1c" transform="rotate(-45 255.70 385.00)" >RAW264.7</text>
<text x="274.80" y="385.00" font-size="10" text-anchor="end" fill="#1c1c1c" transform="rotate(-45 274.80 385.00)" >Huh7</text>
<text x="293.90" y="385.00" font-size="10" text-anchor="end" fill="#1c1c1c" transform="rotate(-45 293.90 385.00)" >A549</text>
<text x="325.70" y="385.00" font-size="10" text-anchor="end" fill="#1c1c1c" transform="rotate(-45 325.70 385.00)" >RAW264.7</text>
<text x="344.80" y="385.00" font-size="10" text-anchor="end" fill="#1c1c1c" transform="rotate(-45 344.80 385.00)" >Huh7</text>
<text x="363.90" y="385.00" font-size="10" text-anchor="end" fill="#1c1c1c" transform="rotate(-45 363.90 385.00)" >A549</text>
<text x="387.30" y="230.00" font-size="13.5" text-anchor="start" fill="#1c1c1c" style="stroke-width:0.1px">f</text>
<line x1="433.90" y1="236.60" x2="433.90" y2="371.20" stroke="#1c1c1c" stroke-width="1.4" />
<line x1="433.90" y1="370.70" x2="522.80" y2="370.70" stroke="#1c1c1c" stroke-width="1.4" />
<line x1="427.90" y1="370.70" x2="433.90" y2="370.70" stroke="#1c1c1c" stroke-width="1.4" />
<text x="426.40" y="374.70" font-size="10" text-anchor="end" fill="#1c1c1c" >0.0</text>
<line x1="427.90" y1="343.98" x2="433.90" y2="343.98" stroke="#1c1c1c" stroke-width="1.4" />
<text x="426.40" y="347.98" font-size="10" text-anchor="end" fill="#1c1c1c" >0.5</text>
<line x1="427.90" y1="317.26" x2="433.90" y2="317.26" stroke="#1c1c1c" stroke-width="1.4" />
<text x="426.40" y="321.26" font-size="10" text-anchor="end" fill="#1c1c1c" >1.0</text>
<line x1="427.90" y1="290.54" x2="433.90" y2="290.54" stroke="#1c1c1c" stroke-width="1.4" />
<text x="426.40" y="294.54" font-size="10" text-anchor="end" fill="#1c1c1c" >1.5</text>
<line x1="427.90" y1="263.82" x2="433.90" y2="263.82" stroke="#1c1c1c" stroke-width="1.4" />
<text x="426.40" y="267.82" font-size="10" text-anchor="end" fill="#1c1c1c" >2.0</text>
<line x1="427.90" y1="237.10" x2="433.90" y2="237.10" stroke="#1c1c1c" stroke-width="1.4" />
<text x="426.40" y="241.10" font-size="10" text-anchor="end" fill="#1c1c1c" >2.5</text>
<line x1="451.10" y1="370.70" x2="451.10" y2="375.40" stroke="#1c1c1c" stroke-width="1.4" />
<line x1="477.90" y1="370.70" x2="477.90" y2="375.40" stroke="#1c1c1c" stroke-width="1.4" />
<line x1="504.50" y1="370.70" x2="504.50" y2="375.40" stroke="#1c1c1c" stroke-width="1.4" />
<line x1="435.00" y1="317.00" x2="522.80" y2="317.00" stroke="#222" stroke-width="1.4" stroke-dasharray="1.5 2.2"/>
<line x1="451.10" y1="305.40" x2="451.10" y2="326.30" stroke="#1c1c1c" stroke-width="1.3" />
<line x1="446.70" y1="305.40" x2="455.50" y2="305.40" stroke="#1c1c1c" stroke-width="1.3" />
<line x1="446.70" y1="326.30" x2="455.50" y2="326.30" stroke="#1c1c1c" stroke-width="1.3" />
<line x1="442.10" y1="319.50" x2="460.10" y2="319.50" stroke="#1c1c1c" stroke-width="1.8" />
<line x1="477.90" y1="258.50" x2="477.90" y2="269.00" stroke="#1c1c1c" stroke-width="1.3" />
<line x1="473.50" y1="258.50" x2="482.30" y2="258.50" stroke="#1c1c1c" stroke-width="1.3" />
<line x1="473.50" y1="269.00" x2="482.30" y2="269.00" stroke="#1c1c1c" stroke-width="1.3" />
<line x1="468.90" y1="258.50" x2="486.90" y2="258.50" stroke="#1c1c1c" stroke-width="1.8" />
<line x1="504.50" y1="301.60" x2="504.50" y2="316.40" stroke="#1c1c1c" stroke-width="1.3" />
<line x1="500.10" y1="301.60" x2="508.90" y2="301.60" stroke="#1c1c1c" stroke-width="1.3" />
<line x1="500.10" y1="316.40" x2="508.90" y2="316.40" stroke="#1c1c1c" stroke-width="1.3" />
<line x1="495.50" y1="306.20" x2="513.50" y2="306.20" stroke="#1c1c1c" stroke-width="1.8" />
<line x1="449.10" y1="252.20" x2="477.60" y2="252.20" stroke="#1c1c1c" stroke-width="1.1" />
<line x1="481.80" y1="252.20" x2="510.00" y2="252.20" stroke="#1c1c1c" stroke-width="1.1" />
<text x="463.20" y="250.90" font-size="10" text-anchor="middle" fill="#1c1c1c" >#</text>
<text x="496.00" y="253.00" font-size="11.5" text-anchor="middle" fill="#1c1c1c" >***</text>
<text x="451.10" y="386.00" font-size="10.0" text-anchor="middle" fill="#1c1c1c" >Ctr</text>
<text x="477.90" y="386.00" font-size="10.0" text-anchor="middle" fill="#1c1c1c" >Ita</text>
<text x="504.50" y="386.00" font-size="10.0" text-anchor="middle" fill="#1c1c1c" >DMI</text>
<text x="407.00" y="302.50" font-size="11.3" text-anchor="middle" fill="#1c1c1c" transform="rotate(-90 407.00 302.50)" >Relative succinate level, Huh7</text>
</svg>
</body></html>
